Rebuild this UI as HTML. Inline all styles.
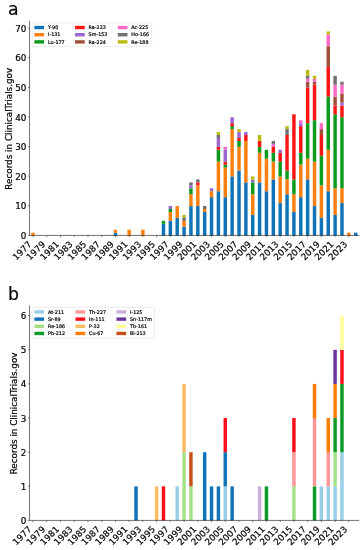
<!DOCTYPE html>
<html><head><meta charset="utf-8"><title>Records in ClinicalTrials.gov</title>
<style>
html,body{margin:0;padding:0;background:#fff;}
svg{display:block;font-family:"DejaVu Sans", "Liberation Sans", sans-serif;fill:#000;}
svg text{font-family:"DejaVu Sans", "Liberation Sans", sans-serif;fill:#000;stroke:#000;stroke-width:0.2px;}
</style></head><body>
<svg width="363" height="550" viewBox="0 0 363 550">
<rect width="363" height="550" fill="#fff"/>
<rect x="31.32" y="232.69" width="3.45" height="2.96" fill="#ff7f0e"/>
<rect x="113.70" y="232.69" width="3.45" height="2.96" fill="#1073b8"/>
<rect x="113.70" y="229.73" width="3.45" height="2.96" fill="#ff7f0e"/>
<rect x="127.44" y="229.73" width="3.45" height="5.92" fill="#ff7f0e"/>
<rect x="141.16" y="229.73" width="3.45" height="5.92" fill="#ff7f0e"/>
<rect x="161.76" y="223.81" width="3.45" height="11.84" fill="#1073b8"/>
<rect x="161.76" y="220.85" width="3.45" height="2.96" fill="#0a9a1c"/>
<rect x="168.63" y="220.85" width="3.45" height="14.80" fill="#1073b8"/>
<rect x="168.63" y="211.97" width="3.45" height="8.88" fill="#ff7f0e"/>
<rect x="168.63" y="209.01" width="3.45" height="2.96" fill="#0a9a1c"/>
<rect x="168.63" y="206.05" width="3.45" height="2.96" fill="#9966d2"/>
<rect x="175.49" y="217.89" width="3.45" height="17.76" fill="#1073b8"/>
<rect x="175.49" y="206.05" width="3.45" height="11.84" fill="#ff7f0e"/>
<rect x="182.35" y="226.77" width="3.45" height="8.88" fill="#1073b8"/>
<rect x="182.35" y="220.85" width="3.45" height="5.92" fill="#ff7f0e"/>
<rect x="182.35" y="217.89" width="3.45" height="2.96" fill="#707070"/>
<rect x="182.35" y="214.93" width="3.45" height="2.96" fill="#babb12"/>
<rect x="189.22" y="206.05" width="3.45" height="29.60" fill="#1073b8"/>
<rect x="189.22" y="194.21" width="3.45" height="11.84" fill="#ff7f0e"/>
<rect x="189.22" y="188.29" width="3.45" height="5.92" fill="#0a9a1c"/>
<rect x="189.22" y="185.33" width="3.45" height="2.96" fill="#9966d2"/>
<rect x="189.22" y="182.37" width="3.45" height="2.96" fill="#707070"/>
<rect x="196.09" y="206.05" width="3.45" height="29.60" fill="#1073b8"/>
<rect x="196.09" y="185.33" width="3.45" height="20.72" fill="#ff7f0e"/>
<rect x="196.09" y="182.37" width="3.45" height="2.96" fill="#fd1414"/>
<rect x="196.09" y="179.41" width="3.45" height="2.96" fill="#707070"/>
<rect x="202.95" y="211.97" width="3.45" height="23.68" fill="#1073b8"/>
<rect x="202.95" y="209.01" width="3.45" height="2.96" fill="#ff7f0e"/>
<rect x="202.95" y="206.05" width="3.45" height="2.96" fill="#707070"/>
<rect x="209.82" y="197.17" width="3.45" height="38.48" fill="#1073b8"/>
<rect x="209.82" y="191.25" width="3.45" height="5.92" fill="#ff7f0e"/>
<rect x="209.82" y="188.29" width="3.45" height="2.96" fill="#9966d2"/>
<rect x="216.68" y="191.25" width="3.45" height="44.40" fill="#1073b8"/>
<rect x="216.68" y="161.65" width="3.45" height="29.60" fill="#ff7f0e"/>
<rect x="216.68" y="149.81" width="3.45" height="11.84" fill="#0a9a1c"/>
<rect x="216.68" y="146.85" width="3.45" height="2.96" fill="#fd1414"/>
<rect x="216.68" y="137.97" width="3.45" height="8.88" fill="#9966d2"/>
<rect x="216.68" y="135.01" width="3.45" height="2.96" fill="#707070"/>
<rect x="216.68" y="132.05" width="3.45" height="2.96" fill="#babb12"/>
<rect x="223.54" y="197.17" width="3.45" height="38.48" fill="#1073b8"/>
<rect x="223.54" y="167.57" width="3.45" height="29.60" fill="#ff7f0e"/>
<rect x="223.54" y="164.61" width="3.45" height="2.96" fill="#0a9a1c"/>
<rect x="223.54" y="161.65" width="3.45" height="2.96" fill="#fd1414"/>
<rect x="223.54" y="149.81" width="3.45" height="11.84" fill="#9966d2"/>
<rect x="223.54" y="146.85" width="3.45" height="2.96" fill="#ff69c8"/>
<rect x="230.41" y="176.45" width="3.45" height="59.20" fill="#1073b8"/>
<rect x="230.41" y="129.09" width="3.45" height="47.36" fill="#ff7f0e"/>
<rect x="230.41" y="126.13" width="3.45" height="2.96" fill="#0a9a1c"/>
<rect x="230.41" y="123.17" width="3.45" height="2.96" fill="#fd1414"/>
<rect x="230.41" y="117.25" width="3.45" height="5.92" fill="#9966d2"/>
<rect x="237.28" y="170.53" width="3.45" height="65.12" fill="#1073b8"/>
<rect x="237.28" y="146.85" width="3.45" height="23.68" fill="#ff7f0e"/>
<rect x="237.28" y="140.93" width="3.45" height="5.92" fill="#0a9a1c"/>
<rect x="237.28" y="137.97" width="3.45" height="2.96" fill="#fd1414"/>
<rect x="237.28" y="132.05" width="3.45" height="5.92" fill="#9966d2"/>
<rect x="237.28" y="129.09" width="3.45" height="2.96" fill="#babb12"/>
<rect x="244.14" y="182.37" width="3.45" height="53.28" fill="#1073b8"/>
<rect x="244.14" y="140.93" width="3.45" height="41.44" fill="#ff7f0e"/>
<rect x="244.14" y="135.01" width="3.45" height="5.92" fill="#fd1414"/>
<rect x="244.14" y="132.05" width="3.45" height="2.96" fill="#9966d2"/>
<rect x="251.01" y="214.93" width="3.45" height="20.72" fill="#1073b8"/>
<rect x="251.01" y="194.21" width="3.45" height="20.72" fill="#ff7f0e"/>
<rect x="251.01" y="182.37" width="3.45" height="11.84" fill="#0a9a1c"/>
<rect x="251.01" y="180.89" width="3.45" height="1.48" fill="#9966d2"/>
<rect x="251.01" y="179.41" width="3.45" height="1.48" fill="#707070"/>
<rect x="251.01" y="176.45" width="3.45" height="2.96" fill="#babb12"/>
<rect x="257.87" y="182.37" width="3.45" height="53.28" fill="#1073b8"/>
<rect x="257.87" y="152.77" width="3.45" height="29.60" fill="#ff7f0e"/>
<rect x="257.87" y="146.85" width="3.45" height="5.92" fill="#0a9a1c"/>
<rect x="257.87" y="140.93" width="3.45" height="5.92" fill="#fd1414"/>
<rect x="257.87" y="135.01" width="3.45" height="5.92" fill="#babb12"/>
<rect x="264.73" y="191.25" width="3.45" height="44.40" fill="#1073b8"/>
<rect x="264.73" y="158.69" width="3.45" height="32.56" fill="#ff7f0e"/>
<rect x="264.73" y="149.81" width="3.45" height="8.88" fill="#0a9a1c"/>
<rect x="271.60" y="179.41" width="3.45" height="56.24" fill="#1073b8"/>
<rect x="271.60" y="161.65" width="3.45" height="17.76" fill="#ff7f0e"/>
<rect x="271.60" y="152.77" width="3.45" height="8.88" fill="#0a9a1c"/>
<rect x="271.60" y="146.85" width="3.45" height="5.92" fill="#fd1414"/>
<rect x="271.60" y="143.89" width="3.45" height="2.96" fill="#ff69c8"/>
<rect x="271.60" y="140.93" width="3.45" height="2.96" fill="#707070"/>
<rect x="278.46" y="203.09" width="3.45" height="32.56" fill="#1073b8"/>
<rect x="278.46" y="176.45" width="3.45" height="26.64" fill="#ff7f0e"/>
<rect x="278.46" y="161.65" width="3.45" height="14.80" fill="#0a9a1c"/>
<rect x="278.46" y="152.77" width="3.45" height="8.88" fill="#fd1414"/>
<rect x="278.46" y="149.81" width="3.45" height="2.96" fill="#9966d2"/>
<rect x="285.33" y="194.21" width="3.45" height="41.44" fill="#1073b8"/>
<rect x="285.33" y="179.41" width="3.45" height="14.80" fill="#ff7f0e"/>
<rect x="285.33" y="170.53" width="3.45" height="8.88" fill="#0a9a1c"/>
<rect x="285.33" y="135.01" width="3.45" height="35.52" fill="#fd1414"/>
<rect x="285.33" y="129.09" width="3.45" height="5.92" fill="#707070"/>
<rect x="285.33" y="126.13" width="3.45" height="2.96" fill="#babb12"/>
<rect x="292.19" y="211.97" width="3.45" height="23.68" fill="#1073b8"/>
<rect x="292.19" y="194.21" width="3.45" height="17.76" fill="#ff7f0e"/>
<rect x="292.19" y="179.41" width="3.45" height="14.80" fill="#0a9a1c"/>
<rect x="292.19" y="114.29" width="3.45" height="65.12" fill="#fd1414"/>
<rect x="299.06" y="197.17" width="3.45" height="38.48" fill="#1073b8"/>
<rect x="299.06" y="164.61" width="3.45" height="32.56" fill="#ff7f0e"/>
<rect x="299.06" y="152.77" width="3.45" height="11.84" fill="#0a9a1c"/>
<rect x="299.06" y="126.13" width="3.45" height="26.64" fill="#fd1414"/>
<rect x="299.06" y="123.17" width="3.45" height="2.96" fill="#9966d2"/>
<rect x="299.06" y="120.21" width="3.45" height="2.96" fill="#ff69c8"/>
<rect x="305.93" y="179.41" width="3.45" height="56.24" fill="#1073b8"/>
<rect x="305.93" y="158.69" width="3.45" height="20.72" fill="#ff7f0e"/>
<rect x="305.93" y="123.17" width="3.45" height="35.52" fill="#0a9a1c"/>
<rect x="305.93" y="87.65" width="3.45" height="35.52" fill="#fd1414"/>
<rect x="305.93" y="81.73" width="3.45" height="5.92" fill="#a0503a"/>
<rect x="305.93" y="78.77" width="3.45" height="2.96" fill="#ff69c8"/>
<rect x="305.93" y="75.81" width="3.45" height="2.96" fill="#707070"/>
<rect x="305.93" y="69.89" width="3.45" height="5.92" fill="#babb12"/>
<rect x="312.79" y="206.05" width="3.45" height="29.60" fill="#1073b8"/>
<rect x="312.79" y="161.65" width="3.45" height="44.40" fill="#ff7f0e"/>
<rect x="312.79" y="120.21" width="3.45" height="41.44" fill="#0a9a1c"/>
<rect x="312.79" y="84.69" width="3.45" height="35.52" fill="#fd1414"/>
<rect x="312.79" y="81.73" width="3.45" height="2.96" fill="#a0503a"/>
<rect x="312.79" y="78.77" width="3.45" height="2.96" fill="#ff69c8"/>
<rect x="312.79" y="75.81" width="3.45" height="2.96" fill="#babb12"/>
<rect x="319.65" y="217.89" width="3.45" height="17.76" fill="#1073b8"/>
<rect x="319.65" y="185.33" width="3.45" height="32.56" fill="#ff7f0e"/>
<rect x="319.65" y="155.73" width="3.45" height="29.60" fill="#0a9a1c"/>
<rect x="319.65" y="135.01" width="3.45" height="20.72" fill="#fd1414"/>
<rect x="319.65" y="129.09" width="3.45" height="5.92" fill="#a0503a"/>
<rect x="319.65" y="123.17" width="3.45" height="5.92" fill="#ff69c8"/>
<rect x="326.52" y="191.25" width="3.45" height="44.40" fill="#1073b8"/>
<rect x="326.52" y="149.81" width="3.45" height="41.44" fill="#ff7f0e"/>
<rect x="326.52" y="96.53" width="3.45" height="53.28" fill="#0a9a1c"/>
<rect x="326.52" y="66.93" width="3.45" height="29.60" fill="#fd1414"/>
<rect x="326.52" y="46.21" width="3.45" height="20.72" fill="#a0503a"/>
<rect x="326.52" y="34.37" width="3.45" height="11.84" fill="#ff69c8"/>
<rect x="326.52" y="31.41" width="3.45" height="2.96" fill="#babb12"/>
<rect x="333.38" y="214.93" width="3.45" height="20.72" fill="#1073b8"/>
<rect x="333.38" y="188.29" width="3.45" height="26.64" fill="#ff7f0e"/>
<rect x="333.38" y="114.29" width="3.45" height="74.00" fill="#0a9a1c"/>
<rect x="333.38" y="105.41" width="3.45" height="8.88" fill="#fd1414"/>
<rect x="333.38" y="96.53" width="3.45" height="8.88" fill="#a0503a"/>
<rect x="333.38" y="84.69" width="3.45" height="11.84" fill="#ff69c8"/>
<rect x="333.38" y="75.81" width="3.45" height="8.88" fill="#707070"/>
<rect x="340.25" y="203.09" width="3.45" height="32.56" fill="#1073b8"/>
<rect x="340.25" y="188.29" width="3.45" height="14.80" fill="#ff7f0e"/>
<rect x="340.25" y="117.25" width="3.45" height="71.04" fill="#0a9a1c"/>
<rect x="340.25" y="105.41" width="3.45" height="11.84" fill="#fd1414"/>
<rect x="340.25" y="102.45" width="3.45" height="2.96" fill="#9966d2"/>
<rect x="340.25" y="93.57" width="3.45" height="8.88" fill="#a0503a"/>
<rect x="340.25" y="84.69" width="3.45" height="8.88" fill="#ff69c8"/>
<rect x="340.25" y="81.73" width="3.45" height="2.96" fill="#707070"/>
<rect x="347.12" y="232.69" width="3.45" height="2.96" fill="#ff7f0e"/>
<rect x="353.98" y="232.69" width="3.45" height="2.96" fill="#1073b8"/>
<path d="M29.55 20.95V235.40H359.27" fill="none" stroke="#111" stroke-width="0.6"/>
<path d="M29.75 235.40h-1.7" stroke="#333" stroke-width="0.6"/>
<text x="26.35" y="239.01" font-size="8.8" text-anchor="end">0</text>
<path d="M29.75 205.80h-1.7" stroke="#333" stroke-width="0.6"/>
<text x="26.35" y="209.41" font-size="8.8" text-anchor="end">10</text>
<path d="M29.75 176.20h-1.7" stroke="#333" stroke-width="0.6"/>
<text x="26.35" y="179.81" font-size="8.8" text-anchor="end">20</text>
<path d="M29.75 146.60h-1.7" stroke="#333" stroke-width="0.6"/>
<text x="26.35" y="150.21" font-size="8.8" text-anchor="end">30</text>
<path d="M29.75 117.00h-1.7" stroke="#333" stroke-width="0.6"/>
<text x="26.35" y="120.61" font-size="8.8" text-anchor="end">40</text>
<path d="M29.75 87.40h-1.7" stroke="#333" stroke-width="0.6"/>
<text x="26.35" y="91.01" font-size="8.8" text-anchor="end">50</text>
<path d="M29.75 57.80h-1.7" stroke="#333" stroke-width="0.6"/>
<text x="26.35" y="61.41" font-size="8.8" text-anchor="end">60</text>
<path d="M29.75 28.20h-1.7" stroke="#333" stroke-width="0.6"/>
<text x="26.35" y="31.81" font-size="8.8" text-anchor="end">70</text>
<path d="M33.05 235.40v1.7" stroke="#333" stroke-width="0.6"/>
<text x="32.15" y="244.90" font-size="8.8" text-anchor="end" transform="rotate(-45 32.15 244.90)">1977</text>
<path d="M46.78 235.40v1.7" stroke="#333" stroke-width="0.6"/>
<text x="45.88" y="244.90" font-size="8.8" text-anchor="end" transform="rotate(-45 45.88 244.90)">1979</text>
<path d="M60.51 235.40v1.7" stroke="#333" stroke-width="0.6"/>
<text x="59.61" y="244.90" font-size="8.8" text-anchor="end" transform="rotate(-45 59.61 244.90)">1981</text>
<path d="M74.24 235.40v1.7" stroke="#333" stroke-width="0.6"/>
<text x="73.34" y="244.90" font-size="8.8" text-anchor="end" transform="rotate(-45 73.34 244.90)">1983</text>
<path d="M87.97 235.40v1.7" stroke="#333" stroke-width="0.6"/>
<text x="87.07" y="244.90" font-size="8.8" text-anchor="end" transform="rotate(-45 87.07 244.90)">1985</text>
<path d="M101.70 235.40v1.7" stroke="#333" stroke-width="0.6"/>
<text x="100.80" y="244.90" font-size="8.8" text-anchor="end" transform="rotate(-45 100.80 244.90)">1987</text>
<path d="M115.43 235.40v1.7" stroke="#333" stroke-width="0.6"/>
<text x="114.53" y="244.90" font-size="8.8" text-anchor="end" transform="rotate(-45 114.53 244.90)">1989</text>
<path d="M129.16 235.40v1.7" stroke="#333" stroke-width="0.6"/>
<text x="128.26" y="244.90" font-size="8.8" text-anchor="end" transform="rotate(-45 128.26 244.90)">1991</text>
<path d="M142.89 235.40v1.7" stroke="#333" stroke-width="0.6"/>
<text x="141.99" y="244.90" font-size="8.8" text-anchor="end" transform="rotate(-45 141.99 244.90)">1993</text>
<path d="M156.62 235.40v1.7" stroke="#333" stroke-width="0.6"/>
<text x="155.72" y="244.90" font-size="8.8" text-anchor="end" transform="rotate(-45 155.72 244.90)">1995</text>
<path d="M170.35 235.40v1.7" stroke="#333" stroke-width="0.6"/>
<text x="169.45" y="244.90" font-size="8.8" text-anchor="end" transform="rotate(-45 169.45 244.90)">1997</text>
<path d="M184.08 235.40v1.7" stroke="#333" stroke-width="0.6"/>
<text x="183.18" y="244.90" font-size="8.8" text-anchor="end" transform="rotate(-45 183.18 244.90)">1999</text>
<path d="M197.81 235.40v1.7" stroke="#333" stroke-width="0.6"/>
<text x="196.91" y="244.90" font-size="8.8" text-anchor="end" transform="rotate(-45 196.91 244.90)">2001</text>
<path d="M211.54 235.40v1.7" stroke="#333" stroke-width="0.6"/>
<text x="210.64" y="244.90" font-size="8.8" text-anchor="end" transform="rotate(-45 210.64 244.90)">2003</text>
<path d="M225.27 235.40v1.7" stroke="#333" stroke-width="0.6"/>
<text x="224.37" y="244.90" font-size="8.8" text-anchor="end" transform="rotate(-45 224.37 244.90)">2005</text>
<path d="M239.00 235.40v1.7" stroke="#333" stroke-width="0.6"/>
<text x="238.10" y="244.90" font-size="8.8" text-anchor="end" transform="rotate(-45 238.10 244.90)">2007</text>
<path d="M252.73 235.40v1.7" stroke="#333" stroke-width="0.6"/>
<text x="251.83" y="244.90" font-size="8.8" text-anchor="end" transform="rotate(-45 251.83 244.90)">2009</text>
<path d="M266.46 235.40v1.7" stroke="#333" stroke-width="0.6"/>
<text x="265.56" y="244.90" font-size="8.8" text-anchor="end" transform="rotate(-45 265.56 244.90)">2011</text>
<path d="M280.19 235.40v1.7" stroke="#333" stroke-width="0.6"/>
<text x="279.29" y="244.90" font-size="8.8" text-anchor="end" transform="rotate(-45 279.29 244.90)">2013</text>
<path d="M293.92 235.40v1.7" stroke="#333" stroke-width="0.6"/>
<text x="293.02" y="244.90" font-size="8.8" text-anchor="end" transform="rotate(-45 293.02 244.90)">2015</text>
<path d="M307.65 235.40v1.7" stroke="#333" stroke-width="0.6"/>
<text x="306.75" y="244.90" font-size="8.8" text-anchor="end" transform="rotate(-45 306.75 244.90)">2017</text>
<path d="M321.38 235.40v1.7" stroke="#333" stroke-width="0.6"/>
<text x="320.48" y="244.90" font-size="8.8" text-anchor="end" transform="rotate(-45 320.48 244.90)">2019</text>
<path d="M335.11 235.40v1.7" stroke="#333" stroke-width="0.6"/>
<text x="334.21" y="244.90" font-size="8.8" text-anchor="end" transform="rotate(-45 334.21 244.90)">2021</text>
<path d="M348.84 235.40v1.7" stroke="#333" stroke-width="0.6"/>
<text x="347.94" y="244.90" font-size="8.8" text-anchor="end" transform="rotate(-45 347.94 244.90)">2023</text>
<text x="11.65" y="128.78" font-size="8.8" text-anchor="middle" transform="rotate(-90 11.65 128.78)">Records in ClinicalTrials.gov</text>
<text x="8.1" y="15.3" font-size="17.3" stroke="none">a</text>
<rect x="32.17" y="23.00" width="119.44" height="23.59" rx="1" ry="1" fill="#fff" fill-opacity="0.8" stroke="#d4d4d4" stroke-opacity="0.8" stroke-width="0.55"/>
<rect x="34.41" y="25.85" width="9.70" height="3.39" fill="#1073b8"/>
<text x="47.99" y="29.30" font-size="4.85">Y-90</text>
<rect x="34.41" y="33.02" width="9.70" height="3.39" fill="#ff7f0e"/>
<text x="47.99" y="36.47" font-size="4.85">I-131</text>
<rect x="34.41" y="40.19" width="9.70" height="3.39" fill="#0a9a1c"/>
<text x="47.99" y="43.64" font-size="4.85">Lu-177</text>
<rect x="75.04" y="25.85" width="9.70" height="3.39" fill="#fd1414"/>
<text x="88.62" y="29.30" font-size="4.85">Ra-223</text>
<rect x="75.04" y="33.02" width="9.70" height="3.39" fill="#9966d2"/>
<text x="88.62" y="36.47" font-size="4.85">Sm-153</text>
<rect x="75.04" y="40.19" width="9.70" height="3.39" fill="#a0503a"/>
<text x="88.62" y="43.64" font-size="4.85">Ra-224</text>
<rect x="117.78" y="25.85" width="9.70" height="3.39" fill="#ff69c8"/>
<text x="131.36" y="29.30" font-size="4.85">Ac-225</text>
<rect x="117.78" y="33.02" width="9.70" height="3.39" fill="#707070"/>
<text x="131.36" y="36.47" font-size="4.85">Ho-166</text>
<rect x="117.78" y="40.19" width="9.70" height="3.39" fill="#babb12"/>
<text x="131.36" y="43.64" font-size="4.85">Re-188</text>
<rect x="134.30" y="486.36" width="3.45" height="34.14" fill="#1073b8"/>
<rect x="154.90" y="486.36" width="3.45" height="34.14" fill="#ffbb64"/>
<rect x="161.76" y="486.36" width="3.45" height="34.14" fill="#fc0d1b"/>
<rect x="175.49" y="486.36" width="3.45" height="34.14" fill="#98cfe8"/>
<rect x="182.35" y="452.21" width="3.45" height="68.29" fill="#a5e186"/>
<rect x="182.35" y="383.93" width="3.45" height="68.29" fill="#ffbb64"/>
<rect x="189.22" y="486.36" width="3.45" height="34.14" fill="#a5e186"/>
<rect x="189.22" y="452.21" width="3.45" height="34.14" fill="#c65016"/>
<rect x="202.95" y="452.21" width="3.45" height="68.29" fill="#1073b8"/>
<rect x="209.82" y="486.36" width="3.45" height="34.14" fill="#1073b8"/>
<rect x="216.68" y="486.36" width="3.45" height="34.14" fill="#1073b8"/>
<rect x="223.54" y="486.36" width="3.45" height="34.14" fill="#98cfe8"/>
<rect x="223.54" y="452.21" width="3.45" height="34.14" fill="#1073b8"/>
<rect x="223.54" y="418.07" width="3.45" height="34.14" fill="#fc0d1b"/>
<rect x="230.41" y="486.36" width="3.45" height="34.14" fill="#1073b8"/>
<rect x="257.87" y="486.36" width="3.45" height="34.14" fill="#ccaedb"/>
<rect x="264.73" y="486.36" width="3.45" height="34.14" fill="#0c9a26"/>
<rect x="292.19" y="486.36" width="3.45" height="34.14" fill="#a5e186"/>
<rect x="292.19" y="452.21" width="3.45" height="34.14" fill="#ff9799"/>
<rect x="292.19" y="418.07" width="3.45" height="34.14" fill="#fc0d1b"/>
<rect x="312.79" y="486.36" width="3.45" height="34.14" fill="#0c9a26"/>
<rect x="312.79" y="418.07" width="3.45" height="68.29" fill="#ff9799"/>
<rect x="312.79" y="383.93" width="3.45" height="34.14" fill="#ff7d00"/>
<rect x="319.65" y="486.36" width="3.45" height="34.14" fill="#98cfe8"/>
<rect x="326.52" y="486.36" width="3.45" height="34.14" fill="#98cfe8"/>
<rect x="326.52" y="452.21" width="3.45" height="34.14" fill="#ff9799"/>
<rect x="326.52" y="418.07" width="3.45" height="34.14" fill="#ff7d00"/>
<rect x="333.38" y="486.36" width="3.45" height="34.14" fill="#98cfe8"/>
<rect x="333.38" y="452.21" width="3.45" height="34.14" fill="#a5e186"/>
<rect x="333.38" y="418.07" width="3.45" height="34.14" fill="#0c9a26"/>
<rect x="333.38" y="383.93" width="3.45" height="34.14" fill="#ff7d00"/>
<rect x="333.38" y="349.79" width="3.45" height="34.14" fill="#6c349e"/>
<rect x="340.25" y="452.21" width="3.45" height="68.29" fill="#98cfe8"/>
<rect x="340.25" y="383.93" width="3.45" height="68.29" fill="#0c9a26"/>
<rect x="340.25" y="349.79" width="3.45" height="34.14" fill="#fc0d1b"/>
<rect x="340.25" y="315.64" width="3.45" height="34.14" fill="#ffff96"/>
<path d="M29.55 305.30V520.40H359.27" fill="none" stroke="#111" stroke-width="0.6"/>
<path d="M29.75 520.40h-1.7" stroke="#333" stroke-width="0.6"/>
<text x="26.35" y="524.01" font-size="8.8" text-anchor="end">0</text>
<path d="M29.75 486.26h-1.7" stroke="#333" stroke-width="0.6"/>
<text x="26.35" y="489.87" font-size="8.8" text-anchor="end">1</text>
<path d="M29.75 452.11h-1.7" stroke="#333" stroke-width="0.6"/>
<text x="26.35" y="455.73" font-size="8.8" text-anchor="end">2</text>
<path d="M29.75 417.97h-1.7" stroke="#333" stroke-width="0.6"/>
<text x="26.35" y="421.58" font-size="8.8" text-anchor="end">3</text>
<path d="M29.75 383.83h-1.7" stroke="#333" stroke-width="0.6"/>
<text x="26.35" y="387.44" font-size="8.8" text-anchor="end">4</text>
<path d="M29.75 349.69h-1.7" stroke="#333" stroke-width="0.6"/>
<text x="26.35" y="353.30" font-size="8.8" text-anchor="end">5</text>
<path d="M29.75 315.54h-1.7" stroke="#333" stroke-width="0.6"/>
<text x="26.35" y="319.15" font-size="8.8" text-anchor="end">6</text>
<path d="M33.05 520.40v1.7" stroke="#333" stroke-width="0.6"/>
<text x="32.15" y="529.90" font-size="8.8" text-anchor="end" transform="rotate(-45 32.15 529.90)">1977</text>
<path d="M46.78 520.40v1.7" stroke="#333" stroke-width="0.6"/>
<text x="45.88" y="529.90" font-size="8.8" text-anchor="end" transform="rotate(-45 45.88 529.90)">1979</text>
<path d="M60.51 520.40v1.7" stroke="#333" stroke-width="0.6"/>
<text x="59.61" y="529.90" font-size="8.8" text-anchor="end" transform="rotate(-45 59.61 529.90)">1981</text>
<path d="M74.24 520.40v1.7" stroke="#333" stroke-width="0.6"/>
<text x="73.34" y="529.90" font-size="8.8" text-anchor="end" transform="rotate(-45 73.34 529.90)">1983</text>
<path d="M87.97 520.40v1.7" stroke="#333" stroke-width="0.6"/>
<text x="87.07" y="529.90" font-size="8.8" text-anchor="end" transform="rotate(-45 87.07 529.90)">1985</text>
<path d="M101.70 520.40v1.7" stroke="#333" stroke-width="0.6"/>
<text x="100.80" y="529.90" font-size="8.8" text-anchor="end" transform="rotate(-45 100.80 529.90)">1987</text>
<path d="M115.43 520.40v1.7" stroke="#333" stroke-width="0.6"/>
<text x="114.53" y="529.90" font-size="8.8" text-anchor="end" transform="rotate(-45 114.53 529.90)">1989</text>
<path d="M129.16 520.40v1.7" stroke="#333" stroke-width="0.6"/>
<text x="128.26" y="529.90" font-size="8.8" text-anchor="end" transform="rotate(-45 128.26 529.90)">1991</text>
<path d="M142.89 520.40v1.7" stroke="#333" stroke-width="0.6"/>
<text x="141.99" y="529.90" font-size="8.8" text-anchor="end" transform="rotate(-45 141.99 529.90)">1993</text>
<path d="M156.62 520.40v1.7" stroke="#333" stroke-width="0.6"/>
<text x="155.72" y="529.90" font-size="8.8" text-anchor="end" transform="rotate(-45 155.72 529.90)">1995</text>
<path d="M170.35 520.40v1.7" stroke="#333" stroke-width="0.6"/>
<text x="169.45" y="529.90" font-size="8.8" text-anchor="end" transform="rotate(-45 169.45 529.90)">1997</text>
<path d="M184.08 520.40v1.7" stroke="#333" stroke-width="0.6"/>
<text x="183.18" y="529.90" font-size="8.8" text-anchor="end" transform="rotate(-45 183.18 529.90)">1999</text>
<path d="M197.81 520.40v1.7" stroke="#333" stroke-width="0.6"/>
<text x="196.91" y="529.90" font-size="8.8" text-anchor="end" transform="rotate(-45 196.91 529.90)">2001</text>
<path d="M211.54 520.40v1.7" stroke="#333" stroke-width="0.6"/>
<text x="210.64" y="529.90" font-size="8.8" text-anchor="end" transform="rotate(-45 210.64 529.90)">2003</text>
<path d="M225.27 520.40v1.7" stroke="#333" stroke-width="0.6"/>
<text x="224.37" y="529.90" font-size="8.8" text-anchor="end" transform="rotate(-45 224.37 529.90)">2005</text>
<path d="M239.00 520.40v1.7" stroke="#333" stroke-width="0.6"/>
<text x="238.10" y="529.90" font-size="8.8" text-anchor="end" transform="rotate(-45 238.10 529.90)">2007</text>
<path d="M252.73 520.40v1.7" stroke="#333" stroke-width="0.6"/>
<text x="251.83" y="529.90" font-size="8.8" text-anchor="end" transform="rotate(-45 251.83 529.90)">2009</text>
<path d="M266.46 520.40v1.7" stroke="#333" stroke-width="0.6"/>
<text x="265.56" y="529.90" font-size="8.8" text-anchor="end" transform="rotate(-45 265.56 529.90)">2011</text>
<path d="M280.19 520.40v1.7" stroke="#333" stroke-width="0.6"/>
<text x="279.29" y="529.90" font-size="8.8" text-anchor="end" transform="rotate(-45 279.29 529.90)">2013</text>
<path d="M293.92 520.40v1.7" stroke="#333" stroke-width="0.6"/>
<text x="293.02" y="529.90" font-size="8.8" text-anchor="end" transform="rotate(-45 293.02 529.90)">2015</text>
<path d="M307.65 520.40v1.7" stroke="#333" stroke-width="0.6"/>
<text x="306.75" y="529.90" font-size="8.8" text-anchor="end" transform="rotate(-45 306.75 529.90)">2017</text>
<path d="M321.38 520.40v1.7" stroke="#333" stroke-width="0.6"/>
<text x="320.48" y="529.90" font-size="8.8" text-anchor="end" transform="rotate(-45 320.48 529.90)">2019</text>
<path d="M335.11 520.40v1.7" stroke="#333" stroke-width="0.6"/>
<text x="334.21" y="529.90" font-size="8.8" text-anchor="end" transform="rotate(-45 334.21 529.90)">2021</text>
<path d="M348.84 520.40v1.7" stroke="#333" stroke-width="0.6"/>
<text x="347.94" y="529.90" font-size="8.8" text-anchor="end" transform="rotate(-45 347.94 529.90)">2023</text>
<text x="17.0" y="413.45" font-size="8.8" text-anchor="middle" transform="rotate(-90 17.0 413.45)">Records in ClinicalTrials.gov</text>
<text x="8.1" y="299.6" font-size="17.3" stroke="none">b</text>
<rect x="32.17" y="307.40" width="122.29" height="30.76" rx="1" ry="1" fill="#fff" fill-opacity="0.8" stroke="#d4d4d4" stroke-opacity="0.8" stroke-width="0.55"/>
<rect x="34.41" y="310.25" width="9.70" height="3.39" fill="#98cfe8"/>
<text x="47.99" y="313.70" font-size="4.85">At-211</text>
<rect x="34.41" y="317.42" width="9.70" height="3.39" fill="#1073b8"/>
<text x="47.99" y="320.87" font-size="4.85">Sr-89</text>
<rect x="34.41" y="324.59" width="9.70" height="3.39" fill="#a5e186"/>
<text x="47.99" y="328.04" font-size="4.85">Re-186</text>
<rect x="34.41" y="331.76" width="9.70" height="3.39" fill="#0c9a26"/>
<text x="47.99" y="335.21" font-size="4.85">Pb-212</text>
<rect x="75.49" y="310.25" width="9.70" height="3.39" fill="#ff9799"/>
<text x="89.07" y="313.70" font-size="4.85">Th-227</text>
<rect x="75.49" y="317.42" width="9.70" height="3.39" fill="#fc0d1b"/>
<text x="89.07" y="320.87" font-size="4.85">In-111</text>
<rect x="75.49" y="324.59" width="9.70" height="3.39" fill="#ffbb64"/>
<text x="89.07" y="328.04" font-size="4.85">P-32</text>
<rect x="75.49" y="331.76" width="9.70" height="3.39" fill="#ff7d00"/>
<text x="89.07" y="335.21" font-size="4.85">Cu-67</text>
<rect x="116.46" y="310.25" width="9.70" height="3.39" fill="#ccaedb"/>
<text x="130.04" y="313.70" font-size="4.85">I-125</text>
<rect x="116.46" y="317.42" width="9.70" height="3.39" fill="#6c349e"/>
<text x="130.04" y="320.87" font-size="4.85">Sn-117m</text>
<rect x="116.46" y="324.59" width="9.70" height="3.39" fill="#ffff96"/>
<text x="130.04" y="328.04" font-size="4.85">Tb-161</text>
<rect x="116.46" y="331.76" width="9.70" height="3.39" fill="#c65016"/>
<text x="130.04" y="335.21" font-size="4.85">Bi-213</text>
</svg>
</body></html>
